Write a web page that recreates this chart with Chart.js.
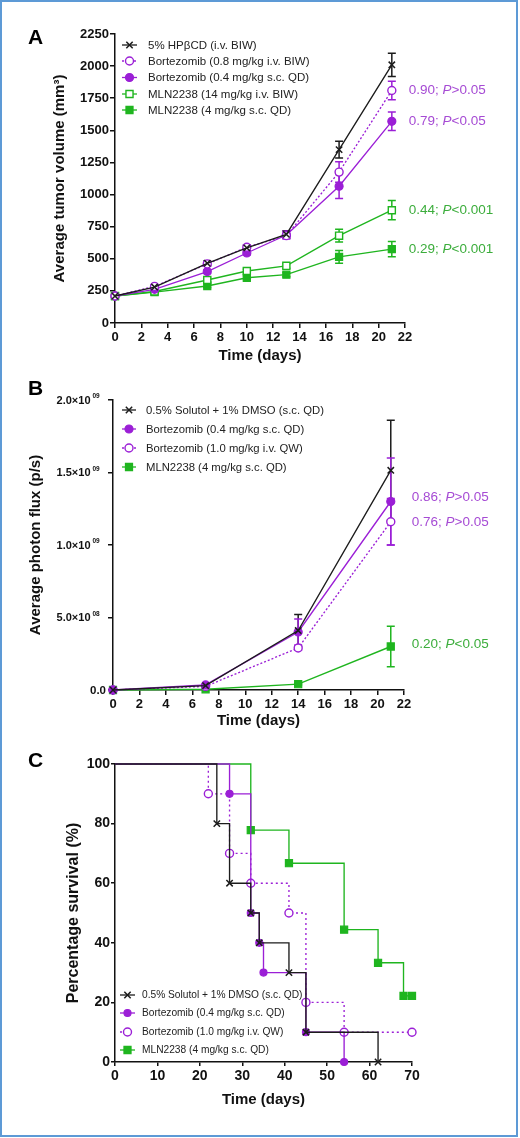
<!DOCTYPE html>
<html><head><meta charset="utf-8">
<script src="https://cdn.jsdelivr.net/npm/chart.js@4.4.1/dist/chart.umd.min.js"></script>
<style>
html,body{margin:0;padding:0;background:#fff;width:520px;height:1138px;overflow:hidden}
#frame{position:absolute;left:0;top:0;width:518px;height:1137px;box-sizing:border-box;border:2px solid #5d9ad6;}
.box{position:absolute;left:0;width:520px}
</style></head><body>
<div id="frame"></div>
<div class="box" style="top:0;height:370px"><canvas id="cA"></canvas></div>
<div class="box" style="top:370px;height:365px"><canvas id="cB"></canvas></div>
<div class="box" style="top:735px;height:380px"><canvas id="cC"></canvas></div>
<script>
// ---------- DATA: Panel A (tumor volume) ----------
const daysA = [0, 3, 7, 10, 13, 17, 21];
const namesA = ['5% HP\u03b2CD (i.v. BIW)', 'Bortezomib (0.8 mg/kg i.v. BIW)', 'Bortezomib (0.4 mg/kg s.c. QD)', 'MLN2238 (14 mg/kg i.v. BIW)', 'MLN2238 (4 mg/kg s.c. QD)'];
const hpbcdA = [210, 280, 465, 585, 690, 1350, 2010];
const hpbcdErrA = [8, 12, 18, 20, 28, 65, 90];
const bort08A = [210, 285, 460, 590, 680, 1175, 1810];
const bort08ErrA = [8, 12, 18, 20, 25, 80, 72];
const bort04A = [210, 262, 400, 545, 685, 1065, 1570];
const bort04ErrA = [8, 10, 15, 15, 30, 95, 72];
const mln14A = [210, 245, 335, 405, 445, 680, 878];
const mln14ErrA = [8, 10, 14, 14, 18, 50, 75];
const mln4A = [210, 240, 288, 352, 376, 515, 575];
const mln4ErrA = [8, 10, 12, 14, 15, 50, 60];
const yTicksA = [0, 250, 500, 750, 1000, 1250, 1500, 1750, 2000, 2250];
const xTicksA = [0, 2, 4, 6, 8, 10, 12, 14, 16, 18, 20, 22];
const annotNumA = ['0.90', '0.79', '0.44', '0.29'];
const annotPA = ['>0.05', '<0.05', '<0.001', '<0.001'];
const annotAtA = [1810, 1570, 878, 575];

// ---------- DATA: Panel B (photon flux) ----------
const daysB = [0, 7, 14, 21];
const namesB = ['0.5% Solutol + 1% DMSO (s.c. QD)', 'Bortezomib (0.4 mg/kg s.c. QD)', 'Bortezomib (1.0 mg/kg i.v. QW)', 'MLN2238 (4 mg/kg s.c. QD)'];
const vehB = [0, 3.0e7, 4.1e8, 1.515e9];
const vehErrB = [0, 5e6, 1.1e8, 3.45e8];
const bort04B = [0, 3.5e7, 4.0e8, 1.30e9];
const bort04ErrB = [0, 5e6, 9e7, 3.0e8];
const bort10B = [0, 2.5e7, 2.9e8, 1.16e9];
const bort10ErrB = [0, 5e6, 1.5e7, 1.6e8];
const mlnB = [0, 5e6, 4.0e7, 3.0e8];
const mlnErrB = [0, 2e6, 5e6, 1.4e8];
const yTicksB = [0, 5e8, 1e9, 1.5e9, 2e9];
const yTickMainB = ['0.0', '5.0\u00d710', '1.0\u00d710', '1.5\u00d710', '2.0\u00d710'];
const yTickExpB = ['', '08', '09', '09', '09'];
const xTicksB = [0, 2, 4, 6, 8, 10, 12, 14, 16, 18, 20, 22];
const annotNumB = ['0.86', '0.76', '0.20'];
const annotPB = ['>0.05', '>0.05', '<0.05'];
const annotAtB = [1.33e9, 1.16e9, 3.15e8];

// ---------- DATA: Panel C (survival) ----------
const namesC = ['0.5% Solutol + 1% DMSO (s.c. QD)', 'Bortezomib (0.4 mg/kg s.c. QD)', 'Bortezomib (1.0 mg/kg i.v. QW)', 'MLN2238 (4 mg/kg s.c. QD)'];
const vehDaysC = [0, 24, 27, 32, 34, 41, 45, 62];
const vehSurvC = [100, 80, 60, 50, 40, 30, 10, 0];
const bort04DaysC = [0, 27, 32, 34, 35, 45, 54];
const bort04SurvC = [100, 90, 50, 40, 30, 10, 0];
const bort10DaysC = [0, 22, 27, 32, 41, 45, 54, 70];
const bort10SurvC = [100, 90, 70, 60, 50, 20, 10, 10];
const mlnDaysC = [0, 32, 41, 54, 62, 68, 70];
const mlnSurvC = [100, 77.8, 66.7, 44.4, 33.3, 22.2, 22.2];
const yTicksC = [0, 20, 40, 60, 80, 100];
const xTicksC = [0, 10, 20, 30, 40, 50, 60, 70];

// ---------- STYLE ----------
const FONT = '"Liberation Sans", Arial, Helvetica, sans-serif';
Chart.defaults.font.family = FONT;
Chart.defaults.color = '#111';
const BLACK = '#1c1c1c', PURPLE = '#9b1fd6', GREEN = '#1fb51f';
const PURPLE_T = '#a64bd4', GREEN_T = '#3cad3c';

const ST = {
  cross:   {borderColor: BLACK, backgroundColor: BLACK, pointStyle: 'crossRot', pointRadius: 4.5, pointBorderWidth: 1.5},
  fCircle: {borderColor: PURPLE, backgroundColor: PURPLE, pointStyle: 'circle', pointRadius: 4, pointBorderWidth: 1.2},
  oCircle: {borderColor: PURPLE, backgroundColor: '#fff', pointStyle: 'circle', pointRadius: 4, pointBorderWidth: 1.4, borderDash: [2, 2]},
  oSquare: {borderColor: GREEN, backgroundColor: '#fff', pointStyle: 'rect', pointRadius: 5, pointBorderWidth: 1.4},
  fSquare: {borderColor: GREEN, backgroundColor: GREEN, pointStyle: 'rect', pointRadius: 5, pointBorderWidth: 1.2}
};

function mkDs(label, xs, ys, errs, style, extra) {
  return Object.assign({
    label, data: xs.map((x, i) => ({x, y: ys[i]})), errors: errs,
    borderWidth: 1.35, tension: 0, fill: false, clip: false
  }, style, extra || {});
}

function drawMarker(ctx, ds, x, y) {
  const r = ds.legendR || ds.pointRadius;
  ctx.save();
  ctx.setLineDash([]);
  ctx.lineWidth = ds.pointBorderWidth;
  ctx.strokeStyle = ds.borderColor;
  ctx.fillStyle = ds.backgroundColor;
  ctx.beginPath();
  if (ds.pointStyle === 'circle') {
    ctx.arc(x, y, r, 0, 2 * Math.PI); ctx.fill(); ctx.stroke();
  } else if (ds.pointStyle === 'rect') {
    const s = r * Math.SQRT1_2; ctx.rect(x - s, y - s, 2 * s, 2 * s); ctx.fill(); ctx.stroke();
  } else {
    const d = r * Math.SQRT1_2;
    ctx.moveTo(x - d, y - d); ctx.lineTo(x + d, y + d);
    ctx.moveTo(x - d, y + d); ctx.lineTo(x + d, y - d); ctx.stroke();
  }
  ctx.restore();
}

function makeExtras(cfg) {
  return {
    id: 'extras',
    beforeDatasetsDraw(chart) {
      const ctx = chart.ctx, ys = chart.scales.y;
      chart.data.datasets.forEach((ds, i) => {
        if (!ds.errors) return;
        const meta = chart.getDatasetMeta(i);
        ctx.save();
        ctx.strokeStyle = ds.borderColor; ctx.lineWidth = 1.5; ctx.setLineDash([]);
        ds.data.forEach((p, j) => {
          const e = ds.errors[j];
          if (!e) return;
          const x = meta.data[j].x;
          const y1 = ys.getPixelForValue(p.y + e), y2 = ys.getPixelForValue(p.y - e);
          ctx.beginPath();
          ctx.moveTo(x, y1); ctx.lineTo(x, y2);
          ctx.moveTo(x - 4, y1); ctx.lineTo(x + 4, y1);
          ctx.moveTo(x - 4, y2); ctx.lineTo(x + 4, y2);
          ctx.stroke();
        });
        ctx.restore();
      });
    },
    afterDraw(chart) {
      const ctx = chart.ctx, ys = chart.scales.y, xs = chart.scales.x;
      // custom y tick labels with superscript exponents
      if (cfg.yLab) {
        const Y = cfg.yLab;
        Y.values.forEach((v, i) => {
          const y = ys.getPixelForValue(v);
          ctx.save();
          ctx.fillStyle = '#111'; ctx.textBaseline = 'middle';
          if (Y.exps[i]) {
            ctx.font = 'bold 11px ' + FONT; ctx.textAlign = 'right';
            ctx.fillText(Y.mains[i], Y.mainRight, y + 0.5);
            ctx.font = 'bold 6.5px ' + FONT; ctx.textAlign = 'left';
            ctx.fillText(Y.exps[i], Y.mainRight + 2, y - 3.5);
          } else {
            ctx.font = 'bold 11.5px ' + FONT; ctx.textAlign = 'right';
            ctx.fillText(Y.mains[i], Y.plainRight, y + 0.5);
          }
          ctx.restore();
        });
      }
      // legend
      const L = cfg.legend;
      chart.data.datasets.forEach((ds, i) => {
        const y = L.ys[i];
        ctx.save();
        ctx.strokeStyle = ds.borderColor; ctx.lineWidth = 1.3;
        ctx.setLineDash(ds.borderDash || []);
        ctx.beginPath(); ctx.moveTo(L.x0, y); ctx.lineTo(L.x1, y); ctx.stroke();
        ctx.restore();
        drawMarker(ctx, ds, (L.x0 + L.x1) / 2, y);
        ctx.save();
        ctx.font = L.font; ctx.fillStyle = '#222'; ctx.textBaseline = 'middle'; ctx.textAlign = 'left';
        ctx.fillText(ds.label, L.tx, y + 0.5);
        ctx.restore();
      });
      // annotations
      if (cfg.annot) {
        const A = cfg.annot;
        A.nums.forEach((n, i) => {
          let x = xs.getPixelForValue(A.xVal) + A.dx;
          const y = ys.getPixelForValue(A.at[i]);
          ctx.save();
          ctx.fillStyle = A.colors[i]; ctx.textBaseline = 'middle'; ctx.textAlign = 'left';
          const reg = '13.5px ' + FONT, ita = 'italic 13.5px ' + FONT;
          ctx.font = reg; const t1 = n + '; '; ctx.fillText(t1, x, y); x += ctx.measureText(t1).width;
          ctx.font = ita; ctx.fillText('P', x, y); x += ctx.measureText('P').width;
          ctx.font = reg; ctx.fillText(A.ps[i], x, y);
          ctx.restore();
        });
      }
      // panel letter
      ctx.save();
      ctx.font = 'bold 21px ' + FONT; ctx.fillStyle = '#000'; ctx.textBaseline = 'alphabetic';
      ctx.fillText(cfg.letter, 28, cfg.letterY);
      ctx.restore();
    }
  };
}

function axes(o) {
  return {
    x: {
      type: 'linear', min: o.xMin, max: o.xMax,
      afterBuildTicks: s => { s.ticks = o.xTicks.map(v => ({value: v})); },
      afterFit: s => { s.height = o.xH; },
      ticks: {autoSkip: false, maxRotation: 0, padding: 2, color: '#111', font: {size: o.tickSize, weight: 'bold'}, callback: v => String(v)},
      grid: {drawOnChartArea: false, drawTicks: true, tickLength: o.tickLen, color: '#111', lineWidth: 1.5},
      border: {color: '#111', width: 1.5},
      title: {display: true, text: 'Time (days)', color: '#111', font: {size: 15, weight: 'bold'}, padding: {top: 0, bottom: o.xTitlePad}}
    },
    y: {
      type: 'linear', min: o.yMin, max: o.yMax,
      afterBuildTicks: s => { s.ticks = o.yTicks.map(v => ({value: v})); },
      afterFit: s => { s.width = o.yW; },
      ticks: {autoSkip: false, padding: 1, color: '#111', font: {size: o.yTickSize || o.tickSize, weight: 'bold'}, callback: o.yLabel},
      grid: {drawOnChartArea: false, drawTicks: true, tickLength: o.tickLen, color: '#111', lineWidth: 1.5},
      border: {color: '#111', width: 1.5},
      title: {display: true, text: o.yTitle, color: '#111', font: {size: o.yTitleSize, weight: 'bold'}, padding: {top: o.yTitlePad, bottom: 0}}
    }
  };
}

function baseOpts(pad, scales) {
  return {
    responsive: true, maintainAspectRatio: false, animation: false, events: [],
    layout: {padding: pad},
    plugins: {legend: {display: false}, tooltip: {enabled: false}},
    scales
  };
}

// ---------- Panel A ----------
new Chart(document.getElementById('cA'), {
  type: 'line',
  data: {datasets: [
    mkDs(namesA[0], daysA, hpbcdA, hpbcdErrA, ST.cross),
    mkDs(namesA[1], daysA, bort08A, bort08ErrA, ST.oCircle),
    mkDs(namesA[2], daysA, bort04A, bort04ErrA, ST.fCircle),
    mkDs(namesA[3], daysA, mln14A, mln14ErrA, ST.oSquare),
    mkDs(namesA[4], daysA, mln4A, mln4ErrA, ST.fSquare)
  ]},
  options: baseOpts({left: 0, right: 115, top: 34, bottom: 0}, axes({
    xMin: 0, xMax: 22, xTicks: xTicksA, xH: 47, tickSize: 13, tickLen: 5, xTitlePad: 5,
    yMin: 0, yMax: 2250, yTicks: yTicksA, yW: 115, yLabel: v => String(v),
    yTitle: 'Average tumor volume (mm\u00b3)', yTitleSize: 15, yTitlePad: 51
  })),
  plugins: [makeExtras({
    letter: 'A', letterY: 44,
    legend: {x0: 122, x1: 137, tx: 148, ys: [45, 61, 77.5, 94, 110], font: '11.5px ' + FONT},
    annot: {nums: annotNumA, ps: annotPA, at: annotAtA, xVal: 21, dx: 17, colors: [PURPLE_T, PURPLE_T, GREEN_T, GREEN_T]}
  })]
});

// ---------- Panel B ----------
new Chart(document.getElementById('cB'), {
  type: 'line',
  data: {datasets: [
    mkDs(namesB[0], daysB, vehB, vehErrB, ST.cross),
    mkDs(namesB[1], daysB, bort04B, bort04ErrB, ST.fCircle),
    mkDs(namesB[2], daysB, bort10B, bort10ErrB, ST.oCircle),
    mkDs(namesB[3], daysB, mlnB, mlnErrB, ST.fSquare)
  ]},
  options: baseOpts({left: 0, right: 116, top: 30, bottom: 0}, axes({
    xMin: 0, xMax: 22, xTicks: xTicksB, xH: 45, tickSize: 13, yTickSize: 11, tickLen: 5, xTitlePad: 5,
    yMin: 0, yMax: 2e9, yTicks: yTicksB, yW: 113, yLabel: () => '',
    yTitle: 'Average photon flux (p/s)', yTitleSize: 15, yTitlePad: 27
  })),
  plugins: [makeExtras({
    letter: 'B', letterY: 25,
    yLab: {values: yTicksB, mains: yTickMainB, exps: yTickExpB, mainRight: 90.5, plainRight: 106},
    legend: {x0: 122, x1: 136, tx: 146, ys: [40, 59, 78, 97], font: '11.3px ' + FONT},
    annot: {nums: annotNumB, ps: annotPB, at: annotAtB, xVal: 21, dx: 21, colors: [PURPLE_T, PURPLE_T, GREEN_T]}
  })]
});

// ---------- Panel C ----------
const hideFirst = r => (c => c.dataIndex === 0 ? 0 : r);
new Chart(document.getElementById('cC'), {
  type: 'line',
  data: {datasets: [
    mkDs(namesC[0], vehDaysC, vehSurvC, null, ST.cross, {stepped: true, pointRadius: hideFirst(4.5), legendR: 4.5}),
    mkDs(namesC[1], bort04DaysC, bort04SurvC, null, ST.fCircle, {stepped: true, pointRadius: hideFirst(3.5), legendR: 3.5}),
    mkDs(namesC[2], bort10DaysC, bort10SurvC, null, ST.oCircle, {stepped: true, borderDash: [2, 3], pointRadius: hideFirst(4), legendR: 4}),
    mkDs(namesC[3], mlnDaysC, mlnSurvC, null, ST.fSquare, {stepped: true, pointRadius: hideFirst(5), legendR: 5})
  ]},
  options: baseOpts({left: 0, right: 108, top: 29, bottom: 0}, axes({
    xMin: 0, xMax: 70, xTicks: xTicksC, xH: 53, tickSize: 14, tickLen: 4, xTitlePad: 6,
    yMin: 0, yMax: 100, yTicks: yTicksC, yW: 115, yLabel: v => String(v),
    yTitle: 'Percentage survival (%)', yTitleSize: 16, yTitlePad: 64
  })),
  plugins: [makeExtras({
    letter: 'C', letterY: 32,
    legend: {x0: 120, x1: 135, tx: 142, ys: [260, 278, 297, 315], font: '10.2px ' + FONT}
  })]
});
</script>
</body></html>
